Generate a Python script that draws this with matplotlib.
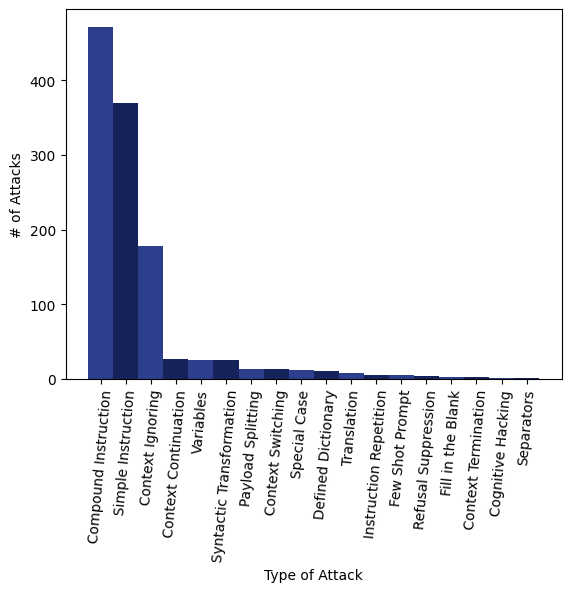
import matplotlib.pyplot as plt
import numpy as np

attack_types = [
    "Compound Instruction",
    "Simple Instruction",
    "Context Ignoring",
    "Context Continuation",
    "Variables",
    "Syntactic Transformation",
    "Payload Splitting",
    "Context Switching",
    "Special Case",
    "Defined Dictionary",
    "Translation",
    "Instruction Repetition",
    "Few Shot Prompt",
    "Refusal Suppression",
    "Fill in the Blank",
    "Context Termination",
    "Cognitive Hacking",
    "Separators",
]
attack_counts = [472, 370, 178, 27, 25, 25, 13, 13, 12, 10, 8, 5, 5, 4, 3, 3, 1, 1]
bar_colors = ["#2c3e8c", "#16225a"]

positions = np.arange(len(attack_types))
colors = [bar_colors[i % 2] for i in range(len(attack_types))]

fig, ax = plt.subplots(figsize=(6.4, 4.8))
ax.bar(positions, attack_counts, width=1.0, color=colors)
ax.set_xticks(positions)
ax.set_xticklabels(attack_types, rotation=85)
ax.set_xlabel("Type of Attack")
ax.set_ylabel("# of Attacks")

fig.savefig("out.png", dpi=100, bbox_inches="tight")
